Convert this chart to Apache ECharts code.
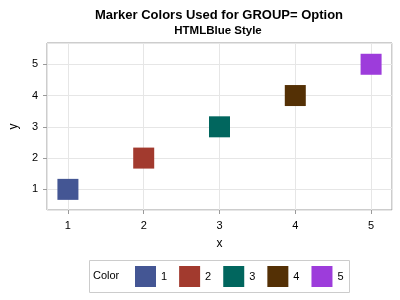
<!DOCTYPE html>
<html><head><meta charset="utf-8">
<script src="https://cdn.jsdelivr.net/npm/echarts@6/dist/echarts.min.js"></script>
<style>html,body{margin:0;padding:0;background:#fff}#c{width:400px;height:300px}</style>
</head><body><div id="c"></div>
<script>
var groups = ['1','2','3','4','5'];
var xValues = [1,2,3,4,5];
var yValues = [1,2,3,4,5];
var colors = ['#445694','#A23A2E','#01665E','#543005','#9D3CDB'];
var titleText = 'Marker Colors Used for GROUP= Option';
var subtitleText = 'HTMLBlue Style';
var FONT = '"Liberation Sans", Arial, sans-serif';

var chart = echarts.init(document.getElementById('c'), null, {renderer:'canvas'});
var series = groups.map(function(g,i){
  return {
    name: g, type:'scatter', symbol:'rect', symbolSize:21,
    itemStyle:{color:colors[i], opacity:1},
    data:[[xValues[i], yValues[i]]]
  };
});
function intLabel(v){ return Math.abs(v-Math.round(v))<1e-6 ? String(Math.round(v)) : ''; }
chart.setOption({
  animation:false,
  graphic:[
    {type:'text', x:219, y:15, style:{text:titleText, fontFamily:FONT, fontSize:13, fontWeight:'bold', fill:'#000', textAlign:'center', textVerticalAlign:'middle'}},
    {type:'text', x:218, y:31, style:{text:subtitleText, fontFamily:FONT, fontSize:11.5, fontWeight:'bold', fill:'#000', textAlign:'center', textVerticalAlign:'middle'}},
    {type:'rect', shape:{x:89.5, y:260.5, width:260, height:32}, style:{fill:'none', stroke:'#cccccc', lineWidth:1}},
    {type:'text', x:93, y:276, style:{text:'Color', fontFamily:FONT, fontSize:11, fill:'#000', textVerticalAlign:'middle'}}
  ],
  grid:{left:46, right:8, top:43, bottom:90, show:true, borderColor:'#9a9a9a', borderWidth:1},
  xAxis:{type:'value', min:0.724, max:5.276, splitNumber:5,
    name:'x', nameLocation:'middle', nameGap:28, nameTextStyle:{fontFamily:FONT, fontSize:12, color:'#000'},
    axisLine:{show:false}, axisTick:{show:true, length:4, lineStyle:{color:'#9a9a9a'}},
    axisLabel:{fontFamily:FONT, fontSize:11, color:'#000', margin:10, formatter:intLabel, showMinLabel:false, showMaxLabel:false},
    splitLine:{show:true, lineStyle:{color:'#e6e6e6'}}},
  yAxis:{type:'value', min:0.34, max:5.68, splitNumber:5,
    name:'y', nameLocation:'middle', nameGap:27, nameTextStyle:{fontFamily:FONT, fontSize:12, color:'#000'},
    axisLine:{show:false}, axisTick:{show:true, length:4, lineStyle:{color:'#9a9a9a'}},
    axisLabel:{fontFamily:FONT, fontSize:11, color:'#000', margin:9, formatter:intLabel, showMinLabel:false, showMaxLabel:false},
    splitLine:{show:true, lineStyle:{color:'#e6e6e6'}}},
  legend:{data:groups, left:135, top:266, padding:0, itemWidth:21, itemHeight:21, itemGap:12, icon:'rect',
    textStyle:{fontFamily:FONT, fontSize:11, color:'#000', padding:[0,0,0,0]}, selectedMode:false},
  series:series
});
</script></body></html>
